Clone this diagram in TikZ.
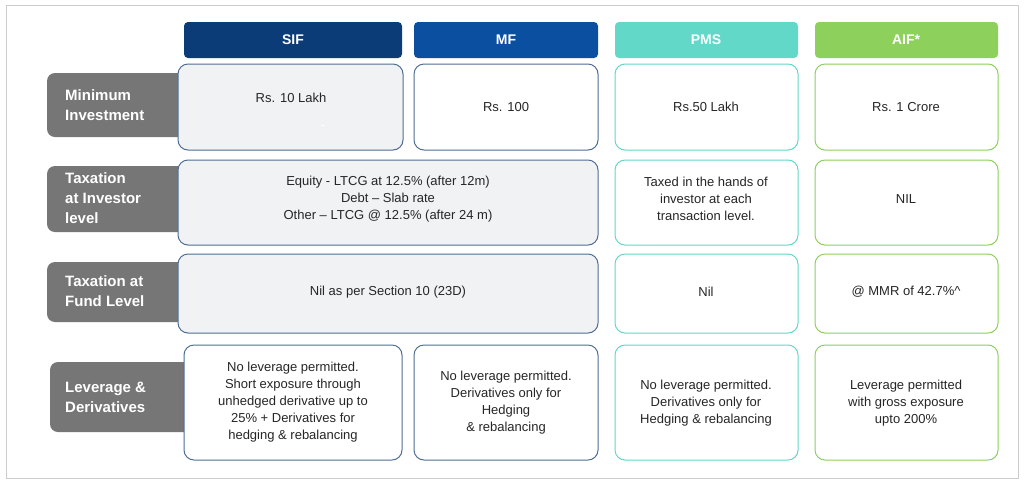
\documentclass[tikz,border=0pt]{standalone}
\usepackage{fontspec}
\setmainfont{Liberation Sans}
\definecolor{sifblue}{HTML}{0B3C78}
\definecolor{mfblue}{HTML}{0A4FA0}
\definecolor{pmsteal}{HTML}{62D8C9}
\definecolor{aifgreen}{HTML}{8DD05C}
\definecolor{rowgray}{HTML}{767676}
\definecolor{cellgray}{HTML}{F1F2F4}
\definecolor{cellline}{HTML}{4F6E96}
\newcommand{\hfnt}{\fontsize{14}{16}\selectfont\bfseries}
\newcommand{\lfnt}{\fontsize{15}{20}\selectfont\bfseries}
\newcommand{\cfnt}{\fontsize{13}{17}\selectfont}
\begin{document}
\begin{tikzpicture}[x=1pt,y=-1pt,
  head/.style={rounded corners=4pt},
  headtext/.style={text=white,font=\hfnt},
  rowlab/.style={fill=rowgray,rounded corners=8pt},
  labtext/.style={text=white,font=\lfnt,align=left,anchor=west,inner sep=0pt},
  cell/.style={rounded corners=10pt,line width=1pt},
  celltext/.style={font=\cfnt,align=center,text=black!85}]
\draw[gray!40,fill=white] (6,5) rectangle (1018,478);
% headers
\fill[head,sifblue] (184,22) rectangle (402,58);
\node[headtext] (hsif) at (293,40) {SIF};
\fill[head,mfblue] (414,22) rectangle (598,58);
\node[headtext] (hmf) at (506,40) {MF};
\fill[head,pmsteal] (615,22) rectangle (798,58);
\node[headtext] (hpms) at (706,40) {PMS};
\fill[head,aifgreen] (815,22) rectangle (998,58);
\node[headtext] (haif) at (906,40) {AIF*};
% row labels
\fill[rowlab] (47,73) rectangle (200,137);
\node[labtext] (lmin) at (65,105) {Minimum\\Investment};
\fill[rowlab] (47,166) rectangle (200,232);
\node[labtext] (ltaxi) at (65,198) {Taxation\\at Investor\\level};
\fill[rowlab] (47,262) rectangle (200,322);
\node[labtext] (ltaxf) at (65,291) {Taxation at\\Fund Level};
\fill[rowlab] (50,362) rectangle (200,432);
\node[labtext] (llev) at (65,397) {Leverage \&\\Derivatives};
% row 1
\draw[cell,cellline,fill=cellgray] (178,64) rectangle (403,150);
\node[celltext] (c11) at (291,98) {Rs. 10 Lakh};
\node[celltext,text=white] (c11b) at (323,128) {-};
\draw[cell,cellline,fill=white] (414,64) rectangle (598,150);
\node[celltext] (c12) at (506,107) {Rs. 100};
\draw[cell,pmsteal,fill=white] (615,64) rectangle (798,150);
\node[celltext] (c13) at (706,107) {Rs.50 Lakh};
\draw[cell,aifgreen,fill=white] (815,64) rectangle (998,150);
\node[celltext] (c14) at (906,107) {Rs. 1 Crore};
% row 2
\draw[cell,cellline,fill=cellgray] (178,160) rectangle (598,245);
\node[celltext] (c21) at (388,199) {Equity - LTCG at 12.5\% (after 12m)\\Debt -- Slab rate\\Other -- LTCG @ 12.5\% (after 24 m)};
\draw[cell,pmsteal,fill=white] (615,160) rectangle (798,245);
\node[celltext] (c23) at (706,199) {Taxed in the hands of\\investor at each\\transaction level.};
\draw[cell,aifgreen,fill=white] (815,160) rectangle (998,245);
\node[celltext] (c24) at (906,199) {NIL};
% row 3
\draw[cell,cellline,fill=cellgray] (178,254) rectangle (598,333);
\node[celltext] (c31) at (388,292) {Nil as per Section 10 (23D)};
\draw[cell,pmsteal,fill=white] (615,254) rectangle (798,333);
\node[celltext] (c33) at (706,292) {Nil};
\draw[cell,aifgreen,fill=white] (815,254) rectangle (998,333);
\node[celltext] (c34) at (906,292) {@ MMR of 42.7\%\^{}};
% row 4
\draw[cell,cellline,fill=white] (184,345) rectangle (402,460);
\node[celltext] (c41) at (293,402) {No leverage permitted.\\Short exposure through\\unhedged derivative up to\\25\% + Derivatives for\\hedging \& rebalancing};
\draw[cell,cellline,fill=white] (414,345) rectangle (598,460);
\node[celltext] (c42) at (506,403) {No leverage permitted.\\Derivatives only for\\Hedging\\\& rebalancing};
\draw[cell,pmsteal,fill=white] (615,345) rectangle (798,460);
\node[celltext] (c43) at (706,403) {No leverage permitted.\\Derivatives only for\\Hedging \& rebalancing};
\draw[cell,aifgreen,fill=white] (815,345) rectangle (998,460);
\node[celltext] (c44) at (906,403) {Leverage permitted\\with gross exposure\\upto 200\%};
\useasboundingbox (0,0) rectangle (1024,483);
\end{tikzpicture}
\end{document}
